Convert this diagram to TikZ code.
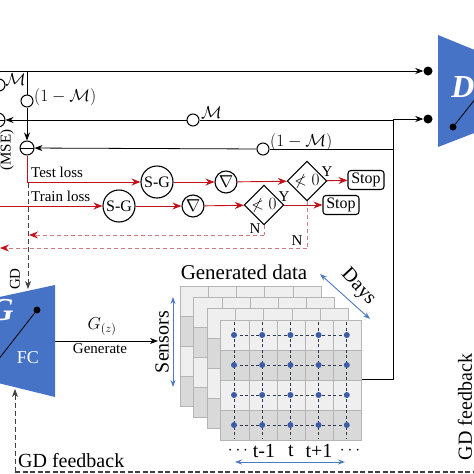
\documentclass[tikz,border=0pt]{standalone}
\usepackage{amssymb}
\usepackage{fontspec}
\setmainfont{Liberation Serif}
\usetikzlibrary{arrows.meta,shapes.geometric,calc}
\definecolor{nnblue}{HTML}{4673C6}
\definecolor{lossred}{HTML}{C0101A}
\definecolor{nred}{HTML}{D37A80}
\definecolor{dotblue}{HTML}{3C5CA6}
\definecolor{arrblue}{HTML}{4C7BC0}
\definecolor{gdgray}{HTML}{404040}
\definecolor{rowA}{HTML}{EFEFEF}
\definecolor{rowB}{HTML}{D9D9D9}
\definecolor{cellline}{HTML}{B5B5B5}
\definecolor{gridnavy}{HTML}{303850}
\newcommand{\fsz}[1]{\fontsize{#1}{#1}\selectfont}
\begin{document}
\begin{tikzpicture}[x=1pt,y=-1pt,
  line/.style={draw=black,line width=0.8pt},
  arr/.style={line,-{Stealth[length=8pt,width=6pt,inset=2.5pt]}},
  odotn/.style={circle,draw,line width=1pt,minimum size=12pt,inner sep=0pt,fill=white,
    path picture={\fill (path picture bounding box.center) circle (1pt);}},
  ominusn/.style={circle,draw,line width=1pt,minimum size=14pt,inner sep=0pt,fill=white,
    path picture={\draw[line width=1pt] (path picture bounding box.west) -- (path picture bounding box.east);}},
  bdot/.style={circle,fill=black,minimum size=9pt,inner sep=0pt},
  redl/.style={draw=lossred,line width=0.9pt},
  reda/.style={redl,-{Stealth[length=9pt,width=7pt,inset=3pt,fill=lossred]}},
  redd/.style={draw=nred,line width=0.9pt,dash pattern=on 4pt off 3pt},
  redda/.style={redd,-{Stealth[length=9pt,width=7pt,inset=3pt,fill=lossred,color=lossred]}},
  sgn/.style={circle,draw,line width=1.1pt,minimum size=32pt,inner sep=0pt,font=\fsz{16}},
  nabn/.style={circle,draw,line width=1.1pt,minimum size=22pt,inner sep=0pt,font=\fsz{16}},
  dian/.style={diamond,draw,line width=1.1pt,minimum width=36pt,minimum height=36pt,inner sep=0pt,font=\fsz{16}},
  stopn/.style={rectangle,rounded corners=3pt,draw,line width=1.1pt,minimum width=36pt,minimum height=19pt,inner sep=1pt,font=\fsz{16}},
  lab/.style={inner sep=0pt,font=\fsz{15}},
  mlab/.style={inner sep=0pt,font=\fsz{17}},
  barr/.style={draw=arrblue,line width=0.9pt,{Stealth[length=7pt,width=5pt]}-{Stealth[length=7pt,width=5pt]}},
  gdl/.style={draw=gdgray,line width=0.9pt,dash pattern=on 5pt off 3pt,-{Stealth[length=8pt,width=6pt,inset=2.5pt]}}
]
\useasboundingbox (0,0) rectangle (474,474);
\clip (0,0) rectangle (474,474);

% ---------- blue network shapes ----------
\fill[nnblue] (438,35) -- (482,53) -- (482,130) -- (438,147) -- cycle;
\node[font=\fsz{32}\bfseries\itshape,text=white,inner sep=0pt] (dlet) at (463,87) {D};
\node[circle,fill=black,minimum size=7pt,inner sep=0pt] (ddot) at (453,127) {};
\coordinate (dline) at (476,98);
\draw[line] (ddot) -- (dline);

\fill[nnblue] (-10,299) -- (55,285) -- (55,397) -- (-10,381) -- cycle;
\node[font=\fsz{32}\bfseries\itshape,text=white,inner sep=0pt] (glet) at (2,310) {G};
\node[circle,fill=black,minimum size=7pt,inner sep=0pt] (gdot) at (37,310) {};
\coordinate (gline) at (-2,360);
\draw[line] (gdot) -- (gline);
\node[font=\fsz{18},text=white,inner sep=0pt] (fc) at (28,358) {FC};

% ---------- top (MSE) part ----------
\node[bdot] (d1) at (428,71) {};
\node[bdot] (d2) at (428,119) {};
\coordinate (tl) at (0,71);
\coordinate (j1) at (27,71);
\draw[arr] (tl) -- (d1);

\node[odotn] (c1m) at (27,101) {};
\node[mlab,anchor=west] (c1mlab) at (34,97) {$(1-\mathcal{M})$};
\node[ominusn] (ms2) at (27,148) {};
\draw[line] (j1) -- (c1m);
\draw[arr] (c1m) -- (ms2);

\node[odotn] (lm) at (-1,85) {};
\node[mlab,anchor=west] (lmlab) at (5,80) {$\mathcal{M}$};
\node[ominusn] (ms1) at (-2,120) {};
\node[lab,rotate=90] (mse) at (7,150) {(MSE)};

\coordinate (ja) at (393,120);
\coordinate (jb) at (393,149);
\coordinate (jc) at (393,379);
\coordinate (dataR) at (361,379);
\coordinate (ja2) at (393,119);
\node[odotn] (om) at (193,120) {};
\node[mlab,anchor=west] (omlab) at (201,113) {$\mathcal{M}$};
\node[odotn] (o1m) at (263,149) {};
\node[mlab,anchor=west] (o1mlab) at (270,142) {$(1-\mathcal{M})$};

\draw[line] (ja) -- (om);
\draw[arr] (om) -- (ms1);
\draw[line] (jb) -- (o1m);
\draw[arr] (o1m) -- (ms2);
\draw[line] (dataR) -- (jc) -- (ja);
\draw[arr] (ja2) -- (d2);

% ---------- loss part ----------
\node[sgn] (sg1) at (157,182) {S-G};
\node[nabn] (nb1) at (226,182) {$\nabla$};
\node[dian] (dia1) at (307,181) {$\nless0$};
\node[stopn] (st1) at (366,180) {Stop};
\node[sgn] (sg2) at (119,206) {S-G};
\node[nabn] (nb2) at (193,206) {$\nabla$};
\node[dian] (dia2) at (264,205) {$\nless0$};
\node[stopn] (st2) at (341,205) {Stop};

\coordinate (tlc) at (27,182);
\coordinate (trs) at (0,206);
\draw[redl] (ms2) -- (tlc);
\draw[reda] (tlc) -- (sg1);
\draw[reda] (sg1) -- (nb1);
\draw[reda] (nb1) -- (dia1);
\draw[reda] (dia1) -- (st1);
\draw[reda] (trs) -- (sg2);
\draw[reda] (sg2) -- (nb2);
\draw[reda] (nb2) -- (dia2);
\draw[reda] (dia2) -- (st2);

\node[lab,anchor=south west] (tloss) at (31,178) {Test loss};
\node[lab,anchor=south west] (trloss) at (31,202) {Train loss};
\node[lab] (y1) at (327,172) {Y};
\node[lab] (y2) at (284,197) {Y};
\node[lab] (n2) at (255,229) {N};
\node[lab] (n1) at (297,241) {N};

\coordinate (n2c) at (264,235);
\coordinate (n2e) at (29,235);
\coordinate (n1c) at (307,248);
\coordinate (n1e) at (0,248);
\draw[redd] (dia2.south) -- (n2c);
\draw[redda] (n2c) -- (n2e);
\draw[redd] (dia1.south) -- (n1c);
\draw[redda] (n1c) -- (n1e);

% GD arrow to G
\coordinate (gdtop) at (28,183);
\coordinate (gtop) at (28,289);
\draw[gdl] (gdtop) -- (gtop);
\node[lab,rotate=90] (gdlab) at (15,279) {GD};

% ---------- generate ----------
\coordinate (gout) at (55,341);
\coordinate (datain) at (158,341);
\draw[arr] (gout) -- (datain);
\node[mlab] (gz) at (102,327) {$G_{(z)}$};
\node[lab] (gen) at (100,349) {Generate};

% ---------- data layers ----------
\foreach \k in {0,1,2,3} {
  \pgfmathsetmacro\ox{180+13.6*\k}
  \pgfmathsetmacro\oy{286+11.3*\k}
  \foreach \r/\c in {0/rowA,1/rowB,2/rowA,3/rowB}
    \fill[\c] (\ox,\oy+30*\r) rectangle ++(141,30);
  \foreach \r in {1,2,3}
    \draw[cellline,line width=0.6pt] (\ox,\oy+30*\r) -- ++(141,0);
  \foreach \i in {1,2,3,4}
    \draw[cellline,line width=0.6pt] (\ox+28.2*\i,\oy) -- ++(0,120);
  \draw[cellline,line width=0.8pt] (\ox,\oy) rectangle ++(141,120);
}
% front layer dots
\foreach \i in {0,...,4} {
  \draw[gridnavy,line width=0.7pt,dash pattern=on 3pt off 2.5pt] (234+28.2*\i,322) -- (234+28.2*\i,439);
}
\foreach \j in {0,...,3} {
  \draw[gridnavy,line width=0.7pt,dash pattern=on 3pt off 2.5pt] (234,335+30*\j) -- (347,335+30*\j);
  \foreach \i in {0,...,4}
    \fill[dotblue] (234+28.2*\i,335+30*\j) circle (3pt);
}
\node[font=\fsz{21},inner sep=0pt] (gdata) at (244,272) {Generated data};
\node[font=\fsz{20},inner sep=0pt,rotate=90] (sens) at (162,342) {Sensors};
\node[font=\fsz{20},inner sep=0pt,rotate=-47] (days) at (358,287) {Days};
\node[font=\fsz{19},inner sep=0pt] (td1) at (238,451) {$\cdots$};
\node[font=\fsz{20},inner sep=0pt] (tm1) at (264,451) {t-1};
\node[font=\fsz{20},inner sep=0pt] (t0) at (291,451) {t};
\node[font=\fsz{20},inner sep=0pt] (tp1) at (319,451) {t+1};
\node[font=\fsz{19},inner sep=0pt] (td2) at (350,451) {$\cdots$};

\coordinate (sa) at (173,297);
\coordinate (sb) at (173,387);
\coordinate (ha) at (235,462);
\coordinate (hb) at (345,462);
\coordinate (da) at (320,274);
\coordinate (db) at (370,319);
\draw[barr] (sa) -- (sb);
\draw[barr] (ha) -- (hb);
\draw[barr] (da) -- (db);

% ---------- GD feedback ----------
\coordinate (gdb) at (15,472);
\coordinate (gdr) at (480,472);
\coordinate (gbot) at (15,389);
\draw[gdgray,line width=2.2pt,dash pattern=on 5pt off 2.5pt] (gdb) -- (gdr);
\draw[gdl] (gdb) -- (gbot);
\node[font=\fsz{20},inner sep=0pt,anchor=south west] (gdfb) at (18,468) {GD feedback};
\node[font=\fsz{20},inner sep=0pt,rotate=90] (gdfb2) at (465,407) {GD feedback};
\end{tikzpicture}
\end{document}
